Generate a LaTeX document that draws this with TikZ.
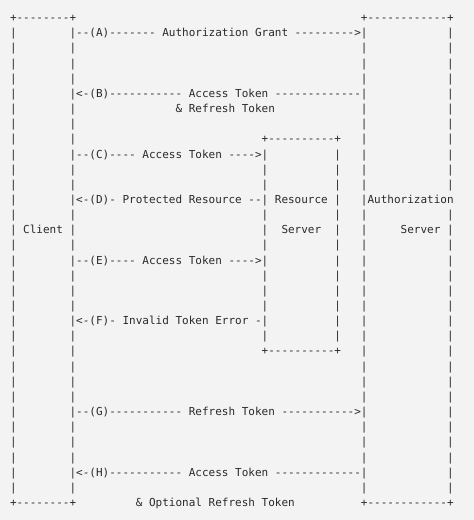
\documentclass[tikz,border=0pt]{standalone}
\usepackage{fontspec}
\setmonofont{DejaVu Sans Mono}
\definecolor{bgc}{HTML}{F3F3F3}
\definecolor{inkc}{HTML}{2A2A2A}
\begin{document}
\begin{tikzpicture}[x=1pt,y=1pt]
\tikzset{
  t/.style={anchor=mid west, inner sep=0pt, outer sep=0pt, text=inkc,
            font=\ttfamily\fontsize{11}{11}\selectfont},
}
\fill[bgc] (0,0) rectangle (474,-520);
\useasboundingbox (0,0) rectangle (474,-520);
\begin{scope}[x=6.622pt, y=-15.15pt, shift={(10pt,-19.5pt)}]
  % box borders
  \node[t] (clTop) at (0,0) {+--------+};
  \node[t] (clBot) at (0,32) {+--------+};
  \node[t] (asTop) at (53,0) {+------------+};
  \node[t] (asBot) at (53,32) {+------------+};
  \node[t] (rsTop) at (38,8) {+----------+};
  \node[t] (rsBot) at (38,22) {+----------+};
  % vertical bars
  \foreach \r in {1,...,31} {
    \node[t] (clL\r) at (0,\r) {|};
    \node[t] (clR\r) at (9,\r) {|};
    \node[t] (asL\r) at (53,\r) {|};
  }
  \foreach \r in {1,...,11,13,14,...,31} {
    \node[t] (asR\r) at (66,\r) {|};
  }
  \foreach \r in {9,...,21} {
    \node[t] (rsL\r) at (38,\r) {|};
    \node[t] (rsR\r) at (49,\r) {|};
  }
  % labels
  \node[t] (client) at (2,14) {Client};
  \node[t] (rs1) at (40,12) {Resource};
  \node[t] (rs2) at (41,14) {Server};
  \node[t] (as1) at (54,12) {Authorization};
  \node[t] (as2) at (59,14) {Server};
  % messages
  \node[t] (msgA) at (10,1) {--(A)------- Authorization Grant --------->};
  \node[t] (msgB) at (10,5) {<-(B)----------- Access Token -------------};
  \node[t] (msgB2) at (25,6) {\& Refresh Token};
  \node[t] (msgC) at (10,9) {--(C)---- Access Token ---->};
  \node[t] (msgD) at (10,12) {<-(D)- Protected Resource --};
  \node[t] (msgE) at (10,16) {--(E)---- Access Token ---->};
  \node[t] (msgF) at (10,20) {<-(F)- Invalid Token Error -};
  \node[t] (msgG) at (10,26) {--(G)----------- Refresh Token ----------->};
  \node[t] (msgH) at (10,30) {<-(H)----------- Access Token -------------};
  \node[t] (msgH2) at (19,32) {\& Optional Refresh Token};
\end{scope}
\end{tikzpicture}
\end{document}
